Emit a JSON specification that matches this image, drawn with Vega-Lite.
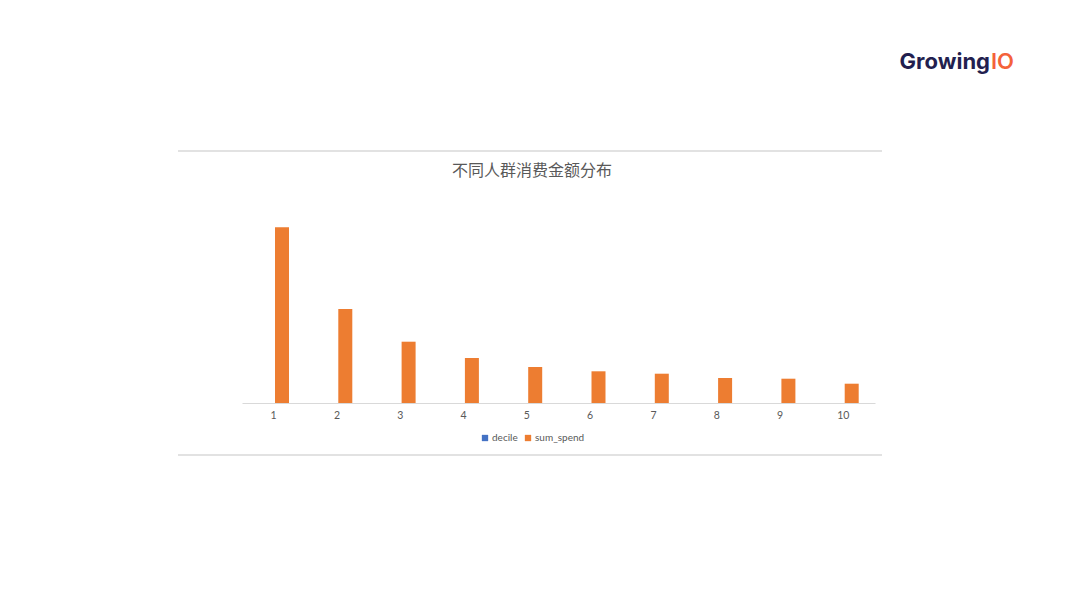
{
  "$schema": "https://vega.github.io/schema/vega-lite/v6.json",
  "autosize": {"type": "none"},
  "width": 633,
  "height": 208,
  "padding": {"left": 242, "top": 195, "right": 205, "bottom": 205},
  "background": "white",
  "config": {"view": {"stroke": null}, "font": "Lato"},
  "layer": [
    {
      "data": {"values": [
        {"decile": 1, "sum_spend": 1757000},
        {"decile": 2, "sum_spend": 940000},
        {"decile": 3, "sum_spend": 613000},
        {"decile": 4, "sum_spend": 450000},
        {"decile": 5, "sum_spend": 360000},
        {"decile": 6, "sum_spend": 317000},
        {"decile": 7, "sum_spend": 293000},
        {"decile": 8, "sum_spend": 250000},
        {"decile": 9, "sum_spend": 243000},
        {"decile": 10, "sum_spend": 193000}
      ]},
      "transform": [{"fold": ["decile", "sum_spend"], "as": ["series", "value"]}],
      "mark": {"type": "bar"},
      "encoding": {
        "x": {
          "field": "decile",
          "type": "ordinal",
          "scale": {"paddingInner": 0, "paddingOuter": 0},
          "axis": {
            "title": null,
            "labelAngle": 0,
            "ticks": false,
            "domainColor": "#d9d9d9",
            "domainWidth": 1,
            "labelColor": "#595959",
            "labelFontSize": 10.5,
            "labelFont": "Lato",
            "labelPadding": 7,
            "grid": false
          }
        },
        "xOffset": {"field": "series", "type": "nominal", "scale": {"domain": ["decile", "sum_spend"], "range": [19, 47]}},
        "y": {"field": "value", "type": "quantitative", "scale": {"domain": [0, 2080000], "nice": false}, "axis": null},
        "color": {
          "field": "series",
          "type": "nominal",
          "scale": {"domain": ["decile", "sum_spend"], "range": ["#4472C4", "#ED7D31"]},
          "legend": {
            "title": null,
            "orient": "none",
            "legendX": 238,
            "legendY": 238,
            "direction": "horizontal",
            "symbolType": "square",
            "symbolSize": 40,
            "symbolStrokeWidth": 0,
            "labelFontSize": 10,
            "labelColor": "#595959",
            "labelFont": "Lato",
            "labelOffset": 2,
            "columnPadding": 5
          }
        }
      }
    },
    {
      "data": {"values": [{}]},
      "mark": {"type": "text", "text": "不同人群消费金额分布", "align": "center", "baseline": "alphabetic", "font": "Noto Sans CJK SC", "fontSize": 16, "color": "#595959"},
      "encoding": {
        "x": {"datum": 290, "type": "quantitative", "scale": {"domain": [0, 633], "nice": false, "zero": false}, "axis": null},
        "y": {"datum": 2270000, "type": "quantitative", "scale": {"domain": [0, 2080000], "nice": false}, "axis": null}
      }
    },
    {
      "data": {"values": [{}]},
      "mark": {"type": "rule", "color": "#d9d9d9", "strokeWidth": 1.5},
      "encoding": {
        "x": {"datum": -64, "type": "quantitative", "scale": {"domain": [0, 633], "nice": false, "zero": false}, "axis": null},
        "x2": {"datum": 640},
        "y": {"datum": 2520000, "type": "quantitative", "scale": {"domain": [0, 2080000], "nice": false}, "axis": null}
      }
    },
    {
      "data": {"values": [{}]},
      "mark": {"type": "rule", "color": "#d9d9d9", "strokeWidth": 1.5},
      "encoding": {
        "x": {"datum": -64, "type": "quantitative", "scale": {"domain": [0, 633], "nice": false, "zero": false}, "axis": null},
        "x2": {"datum": 640},
        "y": {"datum": -520000, "type": "quantitative", "scale": {"domain": [0, 2080000], "nice": false}, "axis": null}
      }
    },
    {
      "data": {"values": [{}]},
      "mark": {"type": "text", "text": "Growing", "align": "right", "baseline": "alphabetic", "font": "Inter", "fontSize": 22, "fontWeight": "bold", "color": "#231f4f"},
      "encoding": {
        "x": {"datum": 748, "type": "quantitative", "scale": {"domain": [0, 633], "nice": false, "zero": false}, "axis": null},
        "y": {"datum": 3340000, "type": "quantitative", "scale": {"domain": [0, 2080000], "nice": false}, "axis": null}
      }
    },
    {
      "data": {"values": [{}]},
      "mark": {"type": "text", "text": "IO", "align": "left", "baseline": "alphabetic", "font": "Inter", "fontSize": 22, "fontWeight": 600, "color": "#f4623a"},
      "encoding": {
        "x": {"datum": 749, "type": "quantitative", "scale": {"domain": [0, 633], "nice": false, "zero": false}, "axis": null},
        "y": {"datum": 3340000, "type": "quantitative", "scale": {"domain": [0, 2080000], "nice": false}, "axis": null}
      }
    }
  ],
  "resolve": {"scale": {"x": "independent"}}
}
